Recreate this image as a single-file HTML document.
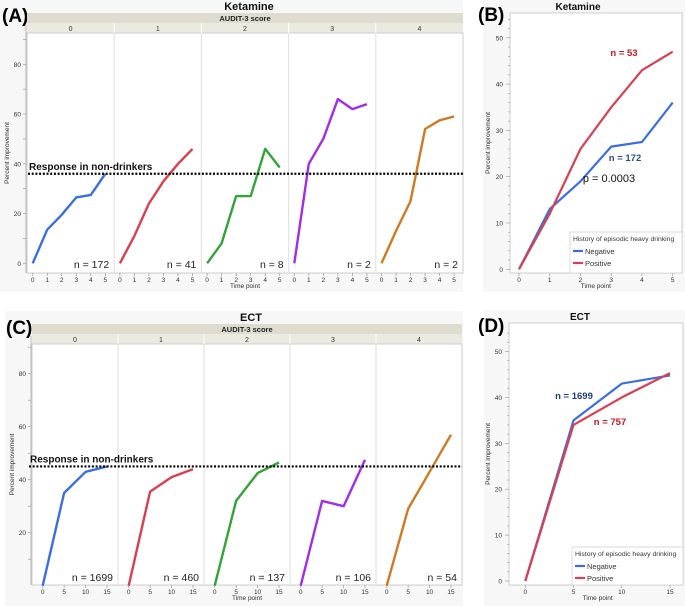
<!DOCTYPE html>
<html><head><meta charset="utf-8"><style>
body{margin:0;background:#fff;width:685px;height:606px;overflow:hidden}
svg{display:block;font-family:"Liberation Sans",Arial,sans-serif}
</style></head><body>
<svg id="fig" width="685" height="606" viewBox="0 0 685 606" xmlns="http://www.w3.org/2000/svg"></svg>
<script>
// ---- Data ----
const ketTime = [0,1,2,3,4,5];
const ketFacetLabels = ["0","1","2","3","4"];
const ketFacetValues = [
  [0,13.5,19.5,26.5,27.5,36],
  [0,11,24,33,40,46],
  [0,8,27,27,46,38.5],
  [0,40,50,66,62,64],
  [0,13,25,54,57.5,59]
];
const ketFacetN = ["n = 172","n = 41","n = 8","n = 2","n = 2"];
const ketNonDrinker = 36;
const ketYTicks = [0,20,40,60,80];

const ectTime = [0,5,10,15];
const ectFacetValues = [
  [0,35,43,45],
  [0,35.5,41,44],
  [0,32,42.5,46.5],
  [0,32,30,47.5],
  [0,29,43,57]
];
const ectFacetN = ["n = 1699","n = 460","n = 137","n = 106","n = 54"];
const ectNonDrinker = 45;
const ectYTicks = [20,40,60,80];

const ketNegative = [0,13,19,26.5,27.5,36];
const ketPositive = [0,12,26,35,43,47];
const ectNegative = [0,35,43,44.8];
const ectPositive = [0,34,40,45.3];
const bYTicks = [0,10,20,30,40,50];

const facetColors = ["#3b6ee3","#d9404f","#33a33a","#a02ee8","#cf7a22"];
const NEG="#3b6ee3", POS="#d9404f";

const svg=document.getElementById('fig');
const NS="http://www.w3.org/2000/svg";
function el(tag,attrs,parent,text){const e=document.createElementNS(NS,tag);for(const k in attrs)e.setAttribute(k,attrs[k]);if(text!==undefined)e.textContent=text;(parent||svg).appendChild(e);return e;}

let b;
b=el('rect',{x:0,y:0,width:463,height:292,fill:'#f7f7f7'});

b=el('rect',{x:483,y:0,width:202,height:292,fill:'#f7f7f7'});

b=el('rect',{x:5,y:311,width:458,height:295,fill:'#f7f7f7'});

b=el('rect',{x:484,y:310,width:201,height:296,fill:'#f7f7f7'});


function facetPanel(o){
  const g=el('g',{});
  
  
  const W=(o.right-o.left)/5;
  let t=el('text',{x:(o.left+o.right)/2+4,y:o.titleY,'text-anchor':'middle','font-size':11,'font-weight':'bold',fill:'#111'},g,o.title);
  
  t=el('text',{x:o.tagX,y:o.tagY,'font-size':19,'font-weight':'bold',fill:'#000'},g,o.tag);
  
  let r=el('rect',{x:o.left,y:o.stripY,width:o.right-o.left,height:10,fill:'#dedccf'},g);
  
  t=el('text',{x:(o.left+o.right)/2,y:o.stripY+8,'text-anchor':'middle','font-size':7.5,'font-weight':'bold',fill:'#222'},g,'AUDIT-3 score');
  
  r=el('rect',{x:o.left,y:o.stripY+10,width:o.right-o.left,height:10,fill:'#ebeae1'},g);
  
  r=el('rect',{x:o.left,y:o.top,width:o.right-o.left,height:o.bottom-o.top,fill:'#fff',stroke:'#ccc','stroke-width':1},g);
  
  const ys=v=>o.y0-v*o.ppu;
  el('line',{x1:o.left-1,y1:o.top-8,x2:o.left-1,y2:o.bottom,stroke:'#aaa','stroke-width':0.8},g);
  for(let v=0;v<=90;v+=10){const y=ys(v);if(y<o.top-8||y>o.bottom+0.5)continue;el('line',{x1:o.left-4,y1:y,x2:o.left-1,y2:y,stroke:'#999','stroke-width':0.7},g);}
  o.yTicks.forEach(v=>{const y=ys(v);
    const tk=el('text',{x:o.left-6,y:y+2.5,'text-anchor':'end','font-size':6.5,fill:'#333'},g,String(v));
    });
  t=el('text',{x:0,y:0,transform:`translate(${o.yTitleX},${(o.top+o.bottom)/2}) rotate(-90)`,'text-anchor':'middle','font-size':6.5,fill:'#333'},g,'Percent improvement');
  
  t=el('text',{x:(o.left+o.right)/2,y:o.bottom+15,'text-anchor':'middle','font-size':6.5,fill:'#333'},g,'Time point');
  
  const tmax=o.times[o.times.length-1];
  for(let f=0;f<5;f++){
    const fl=o.left+f*W;
    const xs=v=>fl+o.xOff+v/tmax*o.xSpan;
    if(f>0){el('line',{x1:fl,y1:o.top,x2:fl,y2:o.bottom,stroke:'#e3e3e3','stroke-width':1.2},g);
      el('line',{x1:fl,y1:o.stripY+10,x2:fl,y2:o.stripY+20,stroke:'#fff','stroke-width':1},g);}
    const fh=el('text',{x:fl+W/2,y:o.stripY+18,'text-anchor':'middle','font-size':7,fill:'#333'},g,ketFacetLabels[f]);
    
    o.times.forEach(tv=>{const x=xs(tv);
      el('line',{x1:x,y1:o.bottom,x2:x,y2:o.bottom+3,stroke:'#999','stroke-width':0.7},g);
      const tk=el('text',{x:x,y:o.bottom+9,'text-anchor':'middle','font-size':6.5,fill:'#333'},g,String(tv));
      });
    const pts=o.values[f].map((v,i)=>xs(o.times[i]).toFixed(1)+','+ys(v).toFixed(1)).join(' ');
    const pl=el('polyline',{points:pts,fill:'none',stroke:facetColors[f],'stroke-width':2.4,'stroke-linejoin':'round'},g);
    
    const nl=el('text',{x:fl+W-5,y:o.nY,'text-anchor':'end','font-size':10.5,fill:'#222'},g,o.nLabels[f]);
    
  }
  const ry=ys(o.ref);
  const rl=el('line',{x1:o.refStart,y1:ry,x2:o.right,y2:ry,stroke:'#000','stroke-width':2.2,'stroke-dasharray':'2 1.7'},g);
  
  t=el('text',{x:o.refStart+1,y:ry-4,'font-size':10,'font-weight':'bold',fill:'#111'},g,'Response in non-drinkers');
  
}

facetPanel({name:'panel-a-ketamine-facets',title:'Ketamine',tag:'(A)',tagX:2,tagY:22,titleY:10,stripY:13,
  left:27,right:463,top:33,bottom:273,y0:263.3,ppu:2.4875,xOff:5.7,xSpan:72.6,times:ketTime,values:ketFacetValues,
  nLabels:ketFacetN,nY:268,yTicks:ketYTicks,yTitleX:9,ref:ketNonDrinker,refStart:28});
facetPanel({name:'panel-c-ect-facets',title:'ECT',tag:'(C)',tagX:6,tagY:334,titleY:321,stripY:324,
  left:32,right:462,top:344,bottom:585,y0:585.7,ppu:2.65,xOff:10.7,xSpan:64.3,times:ectTime,values:ectFacetValues,
  nLabels:ectFacetN,nY:581,yTicks:ectYTicks,yTitleX:14,ref:ectNonDrinker,refStart:29});

function linePanel(o){
  const g=el('g',{});
  
  
  let t=el('text',{x:o.titleX,y:o.titleY,'text-anchor':'middle','font-size':10,'font-weight':'bold',fill:'#111'},g,o.title);
  
  t=el('text',{x:o.tagX,y:o.tagY,'font-size':19,'font-weight':'bold',fill:'#000'},g,o.tag);
  
  let r=el('rect',{x:o.left,y:o.top,width:o.right-o.left,height:o.bottom-o.top,fill:'#fff',stroke:'#ccc','stroke-width':1},g);
  
  const ys=v=>o.y0-v*o.ppu;
  const tmax=o.times[o.times.length-1];
  const xs=v=>o.x0+v/tmax*(o.x1-o.x0);
  for(let v=0;v<=55;v+=2){const y=ys(v);if(y<o.top||y>o.bottom)continue;
    el('line',{x1:o.left-(v%10?2:4),y1:y,x2:o.left,y2:y,stroke:'#999','stroke-width':0.6},g);}
  o.yTicks.forEach(v=>{const y=ys(v);
    const tk=el('text',{x:o.left-7,y:y+2.5,'text-anchor':'end','font-size':6.5,fill:'#333'},g,String(v));
    });
  o.times.forEach(tv=>{const x=xs(tv);
    el('line',{x1:x,y1:o.bottom,x2:x,y2:o.bottom+3,stroke:'#999','stroke-width':0.7},g);
    const tk=el('text',{x:x,y:o.bottom+9,'text-anchor':'middle','font-size':6.5,fill:'#333'},g,String(tv));
    });
  t=el('text',{x:0,y:0,transform:`translate(${o.yTitleX},${(o.top+o.bottom)/2}) rotate(-90)`,'text-anchor':'middle','font-size':6.5,fill:'#333'},g,'Percent improvement');
  
  t=el('text',{x:(o.x0+o.x1)/2,y:o.bottom+15,'text-anchor':'middle','font-size':6.5,fill:'#333'},g,'Time point');
  
  const draw=(vals,col,nm)=>{const p=el('polyline',{points:vals.map((v,i)=>xs(o.times[i]).toFixed(1)+','+ys(v).toFixed(1)).join(' '),fill:'none',stroke:col,'stroke-width':2.2,'stroke-linejoin':'round'},g);
    };
  draw(o.neg,NEG,'negative-series-line');
  draw(o.pos,POS,'positive-series-line');
  o.labels.forEach(l=>{const tl=el('text',{x:l.x,y:l.y,'text-anchor':'middle','font-size':l.fs,'font-weight':l.bold?'bold':'normal',fill:l.c},g,l.s);
    });
  const lx=o.legX,ly=o.legY;
  const lg=el('g',{},g);
  
  el('rect',{x:lx,y:ly,width:o.right-lx,height:o.bottom-ly,fill:'#fff',stroke:'#ccc','stroke-width':0.7},lg);
  t=el('text',{x:lx+3,y:ly+9,'font-size':6.8,fill:'#333'},lg,'History of episodic heavy drinking');
  
  [[NEG,'Negative'],[POS,'Positive']].forEach((e,i)=>{
    const eg=el('g',{},lg);
    
    const yy=ly+19+i*12;
    el('line',{x1:lx+3,y1:yy,x2:lx+13,y2:yy,stroke:e[0],'stroke-width':2.2},eg);
    el('text',{x:lx+15,y:yy+2.8,'font-size':7.5,fill:'#333'},eg,e[1]);
  });
}

linePanel({name:'panel-b-ketamine-history',title:'Ketamine',titleX:578,titleY:10,tag:'(B)',tagX:478,tagY:21,
  left:510,right:682,top:13,bottom:273,x0:519,x1:672.7,y0:269.3,ppu:4.63,times:ketTime,yTicks:bYTicks,yTitleX:490,
  neg:ketNegative,pos:ketPositive,legX:570,legY:232,
  labels:[{x:624,y:56,s:'n = 53',c:'#c8161e',fs:9.5,bold:true,name:'n-label-positive'},
          {x:625,y:161,s:'n = 172',c:'#2a4f88',fs:9.5,bold:true,name:'n-label-negative'},
          {x:609,y:182,s:'p = 0.0003',c:'#111',fs:11,bold:false,name:'p-value-label'}]});
linePanel({name:'panel-d-ect-history',title:'ECT',titleX:580,titleY:320,tag:'(D)',tagX:478,tagY:332,
  left:509,right:683,top:323,bottom:585,x0:525.3,x1:670,y0:581,ppu:4.59,times:ectTime,yTicks:bYTicks,yTitleX:490,
  neg:ectNegative,pos:ectPositive,legX:572,legY:547,
  labels:[{x:574,y:399,s:'n = 1699',c:'#1f3c7a',fs:9.5,bold:true,name:'n-label-negative'},
          {x:610,y:425,s:'n = 757',c:'#c8161e',fs:9.5,bold:true,name:'n-label-positive'}]});
</script>
</body></html>
